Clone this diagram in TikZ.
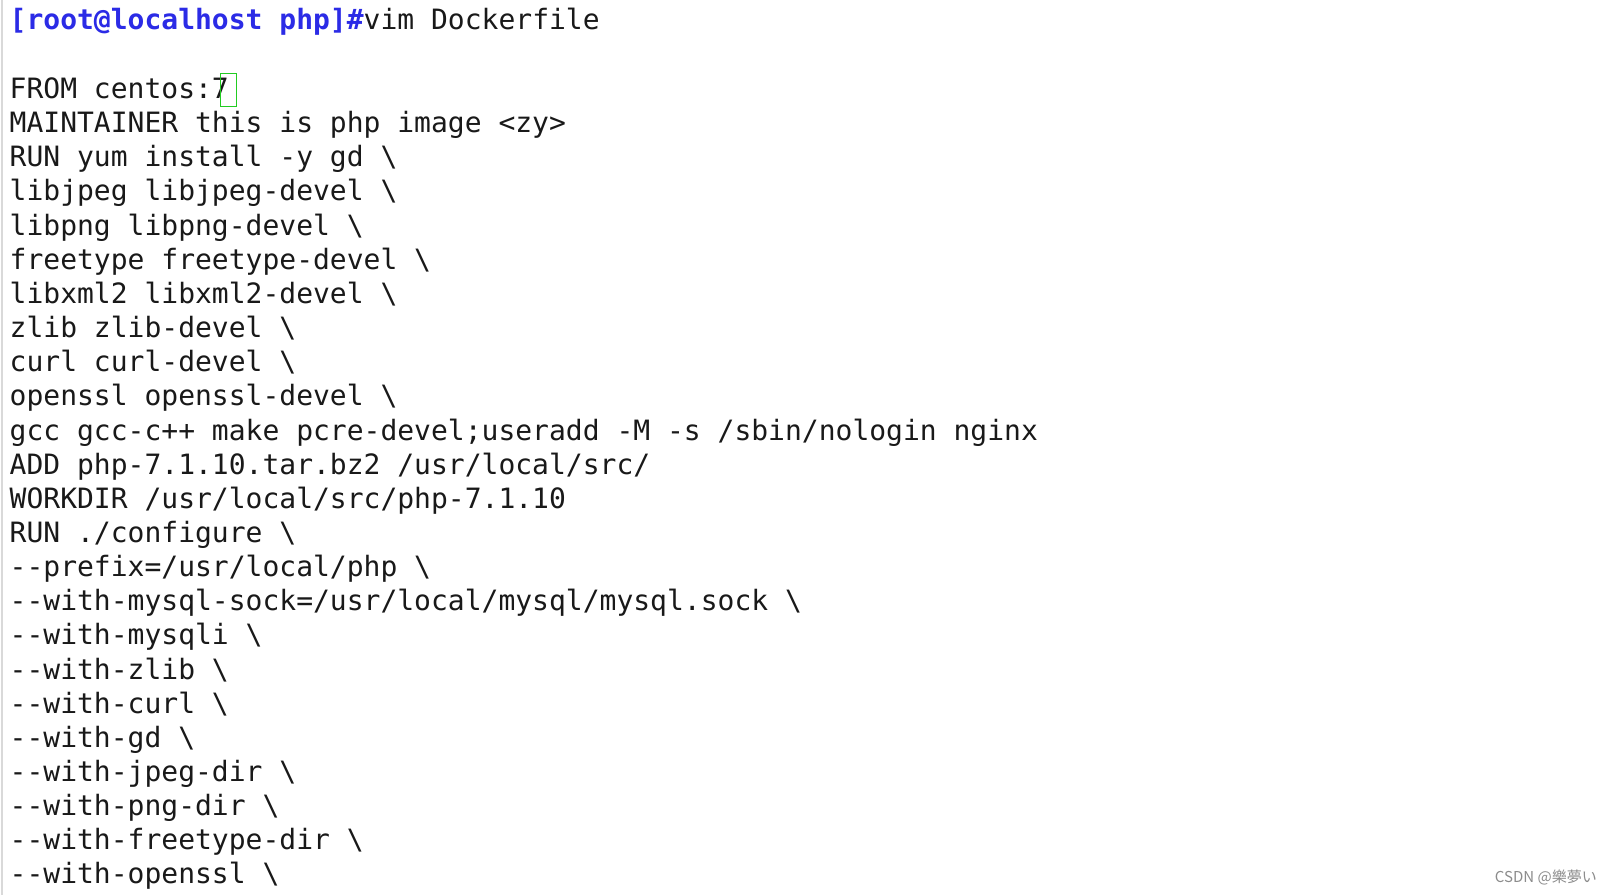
\documentclass[tikz,border=0pt]{standalone}
\usepackage{fontspec}
\newfontfamily\termfont{DejaVu Sans Mono}
\newfontfamily\cjkfont{Noto Sans CJK SC}
\definecolor{promptblue}{HTML}{2B2BE6}
\definecolor{boxgreen}{HTML}{22CC22}
\begin{document}
\begin{tikzpicture}[x=1pt,y=-1pt,
  line/.style={anchor=base west,inner sep=0pt,font=\termfont\fontsize{28}{28}\selectfont,text=black!90}]
\useasboundingbox[fill=white] (0,0) rectangle (1614,895);
\draw[black!15,line width=1.5pt] (2,0) -- (2,895);
\node[line] (p) at (9.5,29) {\textcolor{promptblue}{\bfseries [root@localhost php]\#}vim Dockerfile};
\foreach \t [count=\i from 0] in {%
FROM centos:7,
MAINTAINER this is php image <zy>,
RUN yum install -y gd \textbackslash,
libjpeg libjpeg-devel \textbackslash,
libpng libpng-devel \textbackslash,
freetype freetype-devel \textbackslash,
libxml2 libxml2-devel \textbackslash,
zlib zlib-devel \textbackslash,
curl curl-devel \textbackslash,
openssl openssl-devel \textbackslash,
gcc gcc-c++ make pcre-devel;useradd -M -s /sbin/nologin nginx,
ADD php-7.1.10.tar.bz2 /usr/local/src/,
WORKDIR /usr/local/src/php-7.1.10,
RUN ./configure \textbackslash,
-{}-prefix=/usr/local/php \textbackslash,
-{}-with-mysql-sock=/usr/local/mysql/mysql.sock \textbackslash,
-{}-with-mysqli \textbackslash,
-{}-with-zlib \textbackslash,
-{}-with-curl \textbackslash,
-{}-with-gd \textbackslash,
-{}-with-jpeg-dir \textbackslash,
-{}-with-png-dir \textbackslash,
-{}-with-freetype-dir \textbackslash,
-{}-with-openssl \textbackslash}
  \node[line] (l\i) at (9.5,98.5+34.15*\i) {\t};
\node[draw=boxgreen,line width=1pt,inner sep=0pt,minimum width=16.5pt,minimum height=33pt] (cur) at (228.5,89.5) {};
\node[anchor=base east,inner sep=0pt,text=black!45,font=\cjkfont\fontsize{15}{15}\selectfont] (wm) at (1597,882) {CSDN @樂夢い};
\end{tikzpicture}
\end{document}
